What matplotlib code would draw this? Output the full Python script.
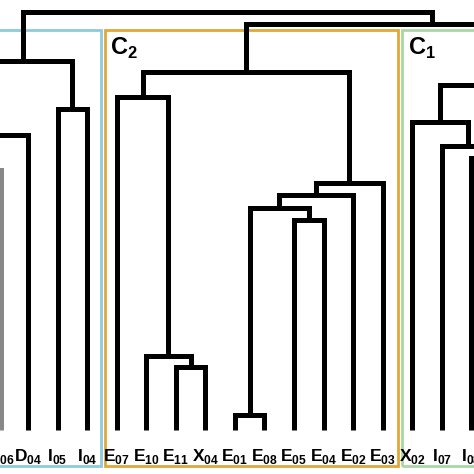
import matplotlib
matplotlib.use("Agg")
import matplotlib.pyplot as plt
from matplotlib.patches import Rectangle

plt.rcParams['mathtext.fontset'] = 'custom'
plt.rcParams['mathtext.bf'] = 'Liberation Sans:bold'
plt.rcParams['mathtext.rm'] = 'Liberation Sans'

# leaves: name -> position index (hidden ones are off-frame)
leaf_names = ["h1", "h2", "g1", "D06", "D04", "I05", "I04", "E07", "E10", "E11", "X04",
              "E01", "E08", "E05", "E04", "E02", "E03", "X02", "I07", "I08", "h3", "h4", "h5", "h6"]
leaf_pos = [-7, -5, -2, -0.93, 0, 1, 2, 3, 4, 5, 6, 7, 8, 9, 10, 11, 12, 13, 14, 15, 16, 17, 25, 27]
visible_labels = ["D06", "D04", "I05", "I04", "E07", "E10", "E11", "X04", "E01", "E08",
                  "E05", "E04", "E02", "E03", "X02", "I07", "I08"]
gray_nodes = ["P3"]

# merges: (node, left, right, height)
merges = [
    ("Pl", "h1", "h2", 230), ("P3", "g1", "D06", 260), ("P4", "Pl", "P3", 280),
    ("Q", "P4", "D04", 295), ("R", "I05", "I04", 321), ("S", "Q", "R", 369),
    ("Bx", "E11", "X04", 63), ("B", "E10", "Bx", 74), ("A", "E07", "B", 333),
    ("M1", "E01", "E08", 15), ("M2", "E05", "E04", 210), ("M3", "M1", "M2", 222),
    ("M4", "M3", "E02", 235), ("M5", "M4", "E03", 247), ("C2", "A", "M5", 358),
    ("V", "h3", "h4", 180), ("U", "I08", "V", 272), ("T", "I07", "U", 284),
    ("W", "X02", "T", 308), ("Z", "h5", "h6", 280), ("Y", "W", "Z", 345),
    ("Top2", "C2", "Y", 406), ("Top", "S", "Top2", 418),
]

PX0, PXS = 28.0, 29.55
fig = plt.figure(figsize=(4.74, 4.74), dpi=100)
ax = fig.add_axes([0, 0, 1, 1])
ax.set_xlim(-PX0 / PXS, (474 - PX0) / PXS)
ax.set_ylim(-44, 430)
ax.axis("off")

def dx(px): return (px - PX0) / PXS
def dy(py): return 430 - py

pos = dict(zip(leaf_names, leaf_pos))
hgt = {n: 0 for n in leaf_names}
lw = 3.6
for node, l, r, h in merges:
    col = "#888888" if node in gray_nodes else "black"
    for c in (l, r):
        ax.plot([pos[c], pos[c]], [hgt[c], h], color=col, lw=lw, solid_capstyle="butt", zorder=3)
    ax.plot([pos[l], pos[r]], [h, h], color=col, lw=lw, solid_capstyle="projecting", zorder=3)
    pos[node] = (pos[l] + pos[r]) / 2
    hgt[node] = h

for n in visible_labels:
    ax.text(pos[n], dy(457), r"$\mathbf{%s}_{\mathbf{%s}}$" % (n[0], n[1:]), ha="center", va="center",
            fontsize=12.5, zorder=4)

boxes = [(-5, 101, "#8ecbd9"), (105, 398, "#e2a63a"), (402, 490, "#a9d8a3")]
for x0, x1, c in boxes:
    ax.add_patch(Rectangle((dx(x0), dy(466)), dx(x1) - dx(x0), dy(30) - dy(466),
                           fill=False, ec=c, lw=2, zorder=2))

ax.text(dx(110), dy(48), r"$\mathbf{C}_{\mathbf{2}}$", fontsize=17, va="center", ha="left")
ax.text(dx(408), dy(48), r"$\mathbf{C}_{\mathbf{1}}$", fontsize=17, va="center", ha="left")

fig.savefig("out.png", dpi=100)
